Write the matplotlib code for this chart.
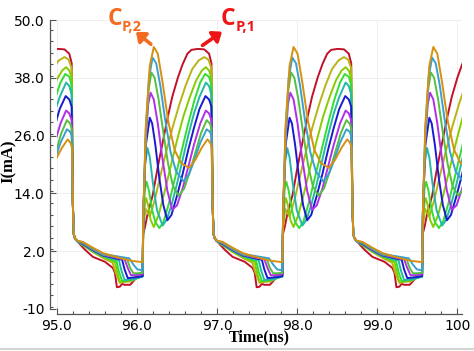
import numpy as np
import matplotlib
matplotlib.use("Agg")
import matplotlib.pyplot as plt
from matplotlib.ticker import MultipleLocator
from matplotlib.lines import Line2D

# Rising edges of the pulse train (ns); every curve repeats the same cycle
rise_times = [94.325, 96.07, 97.815, 99.56]

# One cycle per curve, time (ns) relative to the rising edge, current in mA
red_t = [0, 0.006, 0.03, 0.06, 0.125, 0.19, 0.25, 0.31, 0.37, 0.44, 0.5, 0.56, 0.61, 0.69, 0.77,
         0.83, 0.86, 0.874, 0.886, 0.90, 0.925, 0.975, 1.025, 1.125, 1.274, 1.374, 1.40, 1.424,
         1.46, 1.49, 1.52, 1.59, 1.67, 1.745]
red_i = [-3, 5.5, 7, 9.5, 13.5, 19.5, 24.5, 29.5, 34, 38, 40.8, 43, 43.8, 44.0, 43.9,
         43, 41, 12, 5.5, 4.6, 4.2, 3.2, 2.3, 0.8, -0.2, -1.5, -2.5, -5.5,
         -5.4, -4.8, -5.0, -5.0, -3.5, -3]

olive_t = [0, 0.01, 0.037, 0.06, 0.09, 0.15, 0.22, 0.3, 0.38, 0.46, 0.54, 0.62, 0.70, 0.77, 0.82,
           0.86, 0.874, 0.886, 0.90, 0.925, 1.0, 1.125, 1.25, 1.37, 1.41, 1.46, 1.52, 1.6, 1.67, 1.745]
olive_i = [-3, 7, 10.8, 10, 9.2, 12.5, 17.5, 23, 28, 32.5, 36.5, 39.8, 41.6, 42.3, 41.8,
           40, 12, 5.5, 4.7, 4.1, 3.2, 1.8, 0.6, -0.4, -2.5, -4.6, -4.4, -4.3, -3.6, -3]

lime_t = [0, 0.01, 0.03, 0.045, 0.07, 0.1, 0.14, 0.2, 0.27, 0.35, 0.43, 0.51, 0.59, 0.67, 0.74,
          0.79, 0.83, 0.86, 0.874, 0.886, 0.90, 0.925, 1.0, 1.125, 1.25, 1.4, 1.43, 1.46, 1.52,
          1.58, 1.65, 1.745]
lime_i = [-3, 8, 12, 13, 11.5, 8.5, 7, 9.5, 14, 19.5, 25, 30, 34, 37.5, 39.5,
          40.2, 39.5, 38, 12, 5.5, 4.7, 4.1, 3.3, 1.9, 0.8, -0.3, -2.5, -4.3, -4.2,
          -4.0, -3.4, -3]

green_t = [0, 0.01, 0.03, 0.05, 0.08, 0.12, 0.16, 0.21, 0.26, 0.33, 0.41, 0.49, 0.57, 0.65, 0.72,
           0.78, 0.83, 0.86, 0.874, 0.886, 0.90, 0.925, 1.0, 1.125, 1.25, 1.42, 1.45, 1.49, 1.56,
           1.62, 1.68, 1.745]
green_i = [-3.3, 9, 15, 16.4, 14.5, 10.5, 8, 6.8, 8, 12, 17.5, 23, 28.5, 33.5, 37,
           38.8, 38.2, 36.5, 12, 5.5, 4.7, 4.1, 3.3, 2.0, 0.9, -0.1, -2.3, -4.2, -4.1,
           -4.0, -3.6, -3.3]

teal_t = [0, 0.01, 0.03, 0.062, 0.09, 0.13, 0.18, 0.25, 0.3, 0.36, 0.43, 0.5, 0.57, 0.64, 0.71,
          0.79, 0.83, 0.86, 0.874, 0.886, 0.90, 0.925, 1.0, 1.125, 1.25, 1.45, 1.48, 1.52, 1.58,
          1.64, 1.7, 1.745]
teal_i = [-3.3, 10, 20, 23.4, 21.5, 16, 10.5, 7.3, 8.5, 11.5, 16, 21, 26, 30.5, 34,
          37, 36.3, 34.5, 12, 5.5, 4.7, 4.1, 3.4, 2.1, 1.0, 0.1, -2.0, -4.0, -3.9,
          -3.8, -3.5, -3.3]

blue_t = [0, 0.01, 0.04, 0.09, 0.12, 0.16, 0.21, 0.26, 0.31, 0.36, 0.43, 0.5, 0.57, 0.64, 0.71,
          0.785, 0.83, 0.86, 0.874, 0.886, 0.90, 0.925, 1.0, 1.125, 1.25, 1.49, 1.52, 1.56, 1.62,
          1.68, 1.745]
blue_i = [-3.2, 10, 24, 29.7, 28.5, 24, 17, 11.5, 8.4, 9.5, 13.5, 18, 23, 27.5, 31.5,
          34.2, 33.5, 32, 12, 5.5, 4.7, 4.1, 3.5, 2.2, 1.1, 0.2, -1.8, -3.6, -3.5,
          -3.4, -3.2]

purple_t = [0, 0.01, 0.04, 0.07, 0.10, 0.14, 0.19, 0.25, 0.31, 0.37, 0.43, 0.5, 0.57, 0.64, 0.72,
            0.79, 0.83, 0.86, 0.874, 0.886, 0.90, 0.925, 1.0, 1.125, 1.25, 1.52, 1.56, 1.6, 1.65,
            1.7, 1.745]
purple_i = [-2.8, 10, 25, 32.5, 34.9, 33.5, 28.5, 21, 14.5, 10.6, 11.5, 15, 19.5, 24, 28.5,
            31.2, 30.6, 29.2, 12, 5.5, 4.7, 4.1, 3.6, 2.3, 1.2, 0.3, -1.5, -3.0, -3.0,
            -2.9, -2.8]

green2_t = [0, 0.01, 0.04, 0.075, 0.11, 0.15, 0.2, 0.26, 0.32, 0.38, 0.45, 0.52, 0.59, 0.66, 0.73,
            0.80, 0.84, 0.86, 0.874, 0.886, 0.90, 0.925, 1.0, 1.125, 1.25, 1.55, 1.59, 1.63, 1.68,
            1.745]
green2_i = [-2.5, 10, 26, 35.5, 39.1, 38, 33.5, 26.5, 20, 15.5, 13.5, 15, 18.5, 22.5, 26.5,
            29.2, 28.5, 27.5, 12, 5.5, 4.7, 4.1, 3.7, 2.4, 1.3, 0.4, -1.5, -2.6, -2.6,
            -2.5]

cyan_t = [0, 0.01, 0.04, 0.08, 0.125, 0.17, 0.22, 0.28, 0.35, 0.42, 0.51, 0.58, 0.65, 0.72, 0.80,
          0.84, 0.86, 0.874, 0.886, 0.90, 0.925, 1.0, 1.125, 1.25, 1.58, 1.63, 1.68, 1.745]
cyan_i = [-2.0, 10, 27, 38, 42.2, 41, 36.5, 29.5, 22.5, 18.5, 16.5, 18, 21, 24.5, 27.3,
          26.8, 26, 12, 5.5, 4.7, 4.1, 3.8, 2.5, 1.4, 0.5, -0.8, -1.8, -2.0]

orange_t = [0, 0.01, 0.04, 0.09, 0.14, 0.19, 0.25, 0.32, 0.4, 0.48, 0.58, 0.66, 0.74, 0.81, 0.845,
            0.865, 0.874, 0.886, 0.90, 0.925, 1.0, 1.125, 1.25, 1.45, 1.6, 1.745]
orange_i = [-0.3, 10, 28, 40.5, 44.4, 43, 37, 29, 23, 20.3, 19.3, 21, 23.5, 25.2, 24.5,
            23.5, 12, 5.5, 4.7, 4.2, 3.9, 2.7, 1.6, 0.6, 0.0, -0.3]

curves = [
    (red_t, red_i, '#c0102a'),
    (olive_t, olive_i, '#b8b414'),
    (lime_t, lime_i, '#88cc00'),
    (green_t, green_i, '#33dd33'),
    (teal_t, teal_i, '#22b8a8'),
    (blue_t, blue_i, '#1a1ad0'),
    (purple_t, purple_i, '#b030e8'),
    (green2_t, green2_i, '#55c040'),
    (cyan_t, cyan_i, '#3aa0d0'),
    (orange_t, orange_i, '#d89010'),
]

x_ticks = [95, 96, 97, 98, 99, 100]
x_labels = ['95.0', '96.0', '97.0', '98.0', '99.0', '100']
y_ticks = [-10, 2, 14, 26, 38, 50]
y_labels = ['-10', '2.0', '14.0', '26.0', '38.0', '50.0']

fig = plt.figure(figsize=(4.74, 3.51), dpi=100)
ax = fig.add_axes([0.120, 0.120, 0.855, 0.823])

for t_cyc, i_cyc, col in curves:
    tt = np.concatenate([np.array(t_cyc) + tr for tr in rise_times])
    ii = np.concatenate([np.array(i_cyc) for tr in rise_times])
    ax.plot(tt, ii, color=col, lw=1.4, solid_joinstyle='round')

ax.set_xlim(95, 100.06)
ax.set_ylim(-10, 50)

ax.set_xticks(x_ticks)
ax.set_xticklabels(x_labels)
ax.set_yticks(y_ticks)
ax.set_yticklabels(y_labels)
ax.xaxis.set_minor_locator(MultipleLocator(0.2))
ax.yaxis.set_minor_locator(MultipleLocator(2.4))
ax.tick_params(which='both', direction='in', color='#555555', width=0.8)
ax.tick_params(which='major', length=4, pad=3)
ax.tick_params(axis='y', which='major', pad=4)
ax.tick_params(which='minor', length=2.5)
for lab in ax.get_xticklabels() + ax.get_yticklabels():
    lab.set_fontfamily('Liberation Serif')
    lab.set_fontweight('bold')
    lab.set_fontsize(12.5)

ax.spines['top'].set_visible(False)
ax.spines['right'].set_visible(False)
ax.spines['left'].set_position(('outward', 5))
ax.spines['bottom'].set_position(('outward', 4))
for s in ['left', 'bottom']:
    ax.spines[s].set_color('#555555')
    ax.spines[s].set_linewidth(0.9)

ax.grid(True, which='major', color='#ececec', lw=0.6)
ax.set_axisbelow(True)

ax.set_xlabel('Time(ns)', fontfamily='Liberation Serif', fontweight='bold', fontsize=11.5, labelpad=-2)
ax.set_ylabel('I(mA)', fontfamily='Liberation Serif', fontweight='bold', fontsize=12)
ax.yaxis.set_label_coords(-0.098, 0.51)

# annotations for the two peaks
ax.annotate('', xy=(95.96, 47.9), xytext=(96.20, 44.6),
            arrowprops=dict(arrowstyle='-|>,head_width=0.4,head_length=0.5', color='#f26b21', lw=2.6),
            annotation_clip=False)
ax.annotate('', xy=(97.09, 47.9), xytext=(96.79, 44.4),
            arrowprops=dict(arrowstyle='-|>,head_width=0.4,head_length=0.5', color='#ee1515', lw=2.6),
            annotation_clip=False)
ax.text(95.72, 50.3, 'C', color='#f26b21', fontsize=16.5, fontfamily='Open Sans', fontweight='bold',
        ha='center', va='center', clip_on=False)
ax.text(95.81, 48.5, 'P,2', color='#f26b21', fontsize=10.5, fontfamily='Open Sans', fontweight='bold',
        ha='left', va='center', clip_on=False)
ax.text(97.14, 50.3, 'C', color='#ee1515', fontsize=16.5, fontfamily='Open Sans', fontweight='bold',
        ha='center', va='center', clip_on=False)
ax.text(97.23, 48.5, 'P,1', color='#ee1515', fontsize=10.5, fontfamily='Open Sans', fontweight='bold',
        ha='left', va='center', clip_on=False)

# thin grey frame line along the bottom of the image
fig.add_artist(Line2D([0, 1], [0.006, 0.006], transform=fig.transFigure, color='#d4d4d4', lw=1.5))

fig.savefig('out.png', dpi=100)
